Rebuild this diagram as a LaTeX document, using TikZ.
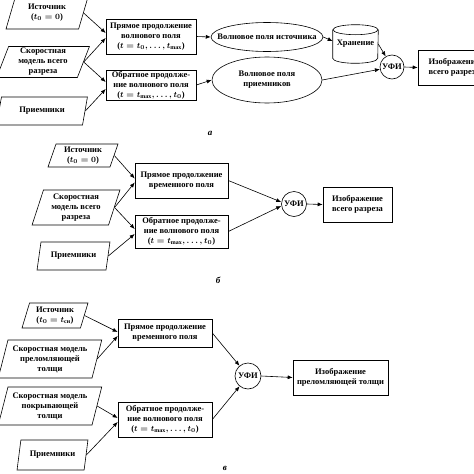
\documentclass[tikz,border=0pt]{standalone}
\usepackage{amsmath}
\usepackage{fontspec}
\setmainfont{Liberation Serif}
\usetikzlibrary{shapes.geometric,arrows.meta}

\tikzset{
  every node/.style={font=\fontsize{8.5}{10}\selectfont\bfseries\boldmath, align=center, inner sep=1pt},
  databox/.style={draw, trapezium, trapezium left angle=73, trapezium right angle=107, trapezium stretches=true},
  procbox/.style={draw, rectangle},
  fieldbox/.style={draw, ellipse},
  ufibox/.style={draw, circle, minimum size=24},
  storebox/.style={rectangle, minimum width=45, minimum height=38},
  flow/.style={-{Latex[length=5pt,width=4pt]}, line width=0.6pt},
  panel/.style={font=\fontsize{9}{10}\selectfont\bfseries\itshape}
}

\begin{document}
\begin{tikzpicture}[x=1pt,y=-1pt,line width=0.6pt]
\useasboundingbox (0,0) rectangle (474,474);

% a
\node[databox, minimum width=82, minimum height=32] (aSrc) at (47,13) {Источник\\($t_0 = 0$)};
\node[databox, minimum width=93, minimum height=31] (aVel) at (43,62) {Скоростная\\модель всего\\разреза};
\node[databox, minimum width=91, minimum height=28] (aRec) at (42,111) {Приемники};
\node[procbox, minimum width=90, minimum height=35] (aFwd) at (151,36.5) {Прямое продолжение\\волнового поля\\($t = t_0,\dots,t_{\max}$)};
\node[procbox, minimum width=90, minimum height=30] (aBwd) at (151,85) {Обратное продолже-\\ние волнового поля\\($t = t_{\max},\dots,t_0$)};
\node[fieldbox, inner xsep=-10pt, minimum width=110, minimum height=29] (aSrcF) at (267,37) {Волновое поля источника};
\node[fieldbox, minimum width=110, minimum height=46] (aRecF) at (267,80) {Волновое поля\\приемников};
\node[storebox] (aStore) at (355.5,44) {\raisebox{-3pt}{Хранение}};
% cylinder drawn by hand
\draw ([yshift=-5]aStore.north) ellipse [x radius=22.5, y radius=5];
\draw ([yshift=-5]aStore.north west) -- ([yshift=5]aStore.south west)
  arc [start angle=180, end angle=0, x radius=22.5, y radius=5] -- ([yshift=-5]aStore.north east);
\node[ufibox] (aUfi) at (392,67) {УФИ};
\node[procbox, minimum width=72, minimum height=35] (aImg) at (454,67.5) {Изображение\\всего разреза};
\node[panel] (aLbl) at (210,133) {а};
\draw[flow] (aSrc.east) -- ([yshift=3.5]aFwd.west);
\draw[flow] (aVel.east) -- ([yshift=-1.5]aFwd.west);
\draw[flow] (aVel.east) -- ([yshift=3]aBwd.west);
\draw[flow] (aRec.east) -- ([yshift=-4]aBwd.west);
\draw[flow] (aFwd.east) -- (aSrcF.west);
\draw[flow] (aBwd.east) -- (aRecF.west);
\draw[flow] (aSrcF.east) -- ([yshift=3]aStore.west);
\draw[flow] (aStore.east) -- (aUfi);
\draw[flow] (aRecF.east) -- (aUfi);
\draw[flow] (aUfi.east) -- (aImg.west);

% b
\node[databox, minimum width=70, minimum height=23] (bSrc) at (83,155.5) {Источник\\($t_0 = 0$)};
\node[databox, minimum width=88, minimum height=35] (bVel) at (76,207.5) {Скоростная\\модель всего\\разреза};
\node[databox, minimum width=73, minimum height=28] (bRec) at (73.5,256) {Приемники};
\node[procbox, minimum width=93, minimum height=35] (bFwd) at (181.5,180.5) {Прямое продолжение\\временного поля};
\node[procbox, minimum width=93, minimum height=33] (bBwd) at (181.5,231.5) {Обратное продолже-\\ние волнового поля\\($t = t_{\max},\dots,t_0$)};
\node[ufibox, minimum size=25] (bUfi) at (294,204) {УФИ};
\node[procbox, minimum width=69, minimum height=35] (bImg) at (357.5,204.5) {Изображение\\всего разреза};
\node[panel] (bLbl) at (218,280) {б};
\draw[flow] (bSrc.east) -- ([yshift=2]bFwd.west);
\draw[flow] (bVel.east) -- ([yshift=-2]bFwd.west);
\draw[flow] (bVel.east) -- ([yshift=2.5]bBwd.west);
\draw[flow] (bRec.east) -- ([yshift=-2.5]bBwd.west);
\draw[flow] (bFwd.east) -- ([yshift=2]bUfi.west);
\draw[flow] (bBwd.east) -- ([yshift=-2]bUfi.west);
\draw[flow] (bUfi.east) -- (bImg.west);

% c
\node[databox, minimum width=66, minimum height=25] (cSrc) at (55,315.5) {Источник\\($t_0 = t_{\text{сн}}$)};
\node[databox, minimum width=104, minimum height=38] (cVel1) at (50,359) {Скоростная модель\\преломляющей\\толщи};
\node[databox, minimum width=104, minimum height=38] (cVel2) at (50,406) {Скоростная модель\\покрывающей\\толщи};
\node[databox, minimum width=71, minimum height=30] (cRec) at (52.5,455) {Приемники};
\node[procbox, minimum width=94, minimum height=28] (cFwd) at (165,333) {Прямое продолжение\\временного поля};
\node[procbox, minimum width=94, minimum height=35] (cBwd) at (165,419.5) {Обратное продолже-\\ние волнового поля\\($t = t_{\max},\dots,t_0$)};
\node[ufibox, minimum size=26] (cUfi) at (248,376) {УФИ};
\node[procbox, minimum width=95, minimum height=35] (cImg) at (340.5,377.5) {Изображение\\преломляющей толщи};
\node[panel] (cLbl) at (225,468) {в};
\draw[flow] (cSrc.east) -- ([yshift=1]cFwd.west);
\draw[flow] (cVel1.east) -- ([yshift=-3]cFwd.west);
\draw[flow] (cVel2.east) -- ([yshift=1.5]cBwd.west);
\draw[flow] (cRec.east) -- ([yshift=-2.5]cBwd.west);
\draw[flow] (cFwd.east) -- (cUfi);
\draw[flow] (cBwd.east) -- (cUfi);
\draw[flow] (cUfi.east) -- (cImg.west);
\end{tikzpicture}
\end{document}
